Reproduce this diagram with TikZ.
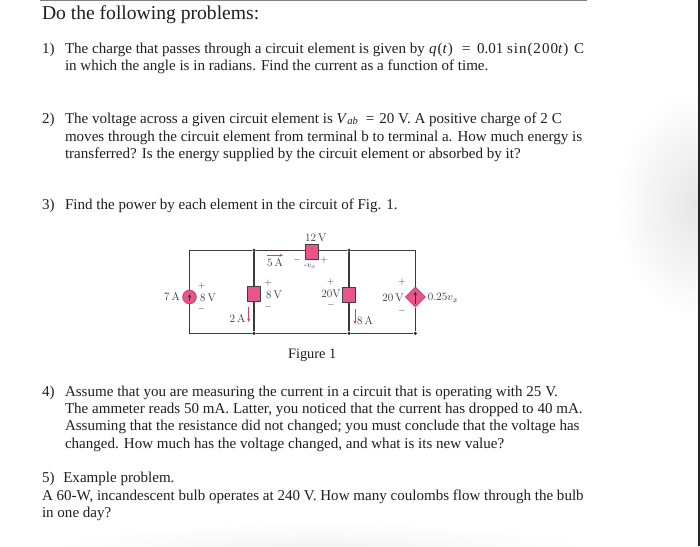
\documentclass[tikz,border=0pt]{standalone}
\usepackage{fontspec}
\usetikzlibrary{shapes.geometric,arrows.meta}
\newfontfamily\tnr{Liberation Serif}
\newfontfamily\tnrw[LetterSpace=6.5]{Liberation Serif}
\definecolor{elem}{HTML}{E9558B}
\definecolor{wirec}{HTML}{3A3A3A}
\definecolor{arrowc}{HTML}{D83A78}
\newcommand{\bodysize}{\fontsize{15.05}{17}\selectfont\tnr}
\tikzset{
  x=1pt,y=-1pt,
  body/.style={anchor=base west,inner sep=0pt,outer sep=0pt,font=\bodysize,text=black!88},
  wbody/.style={anchor=base west,inner sep=0pt,outer sep=0pt,font=\fontsize{15.05}{17}\selectfont\tnrw,text=black!88},
  lab/.style={inner sep=0pt,outer sep=0pt,font=\fontsize{11.2}{12}\selectfont,text=black!80},
  sgn/.style={inner sep=0pt,outer sep=0pt,font=\fontsize{9.5}{10}\selectfont,text=black!80},
  wire/.style={draw=wirec,line width=1.25pt},
  boxel/.style={draw=black!75,fill=elem,line width=1pt,rectangle,inner sep=0pt,minimum width=13pt,minimum height=15pt},
  srcel/.style={draw=elem!85!black,fill=elem,line width=1pt,circle,inner sep=0pt,minimum size=13.5pt},
  depel/.style={draw=elem!85!black,fill=elem,line width=1pt,diamond,inner sep=0pt,minimum width=20pt,minimum height=20pt},
  jdot/.style={circle,fill=black!85,inner sep=0pt,minimum size=3.4pt},
  curr/.style={draw=arrowc,line width=0.9pt,-{Stealth[length=3.5pt,width=3pt]}},
  inner/.style={draw=black!80,line width=0.8pt,-{Stealth[length=4pt,width=3.5pt]}},
}
\begin{document}
\begin{tikzpicture}
\useasboundingbox (0,0) rectangle (700,546);
% page shadows
\fill[white] (0,0) rectangle (700,546);
\begin{scope}
\clip (0,0) rectangle (700,546);
\shade[inner color=black!10,outer color=white,draw=none] (700,205) ellipse [x radius=85,y radius=115];
\shade[inner color=black!5,outer color=white,draw=none] (320,550) ellipse [x radius=270,y radius=28];
\end{scope}
\fill[black!85] (698,0) rectangle (700,546);
\coordinate (ruleL) at (40,0.5);
\coordinate (ruleR) at (587,0.5);
\draw[black!50,line width=1.2pt] (ruleL) -- (ruleR);
% text
\node[body,font=\fontsize{19.6}{22}\selectfont\tnr] (title) at (42,19) {Do the following problems:};
\node[body] (p1n) at (42,53) {1)};
\node[body] (p1a) at (65,53) {The charge that passes through a circuit element is given by};
\node[wbody] (m1) at (429,53) {\textit{q}(\textit{t})};
\node[body] (m2) at (462,53) {=};
\node[body] (m3) at (477,53) {0.01};
\node[wbody] (m4) at (507,53) {sin(200\textit{t})};
\node[body] (m5) at (574,53) {C};
\node[body] (p1b) at (65,70) {in which the angle is in radians. Find the current as a function of time.};
\node[body] (p2n) at (42,123) {2)};
\node[body] (p2a) at (65,123) {The voltage across a given circuit element is \textit{V}\raisebox{-0.25ex}{\fontsize{10.5}{10}\selectfont\textit{ab}}\hspace{8pt}=\hspace{5pt}20 V. A positive charge of 2 C};
\node[body] (p2b) at (65,141) {moves through the circuit element from terminal b to terminal a. How much energy is};
\node[body] (p2c) at (65,158) {transferred? Is the energy supplied by the circuit element or absorbed by it?};
\node[body] (p3n) at (42,209) {3)};
\node[body] (p3a) at (65,209) {Find the power by each element in the circuit of Fig. 1.};
\node[body,font=\fontsize{14.4}{17}\selectfont\tnr] (fig) at (288,358) {Figure 1};
\node[body] (p4n) at (42,396) {4)};
\node[body] (p4a) at (65,396) {Assume that you are measuring the current in a circuit that is operating with 25 V.};
\node[body] (p4b) at (65,413) {The ammeter reads 50 mA. Latter, you noticed that the current has dropped to 40 mA.};
\node[body] (p4c) at (65,430) {Assuming that the resistance did not changed; you must conclude that the voltage has};
\node[body] (p4d) at (65,448) {changed. How much has the voltage changed, and what is its new value?};
\node[body] (p5a) at (42,482) {5)\hspace{5pt} Example problem.};
\node[body] (p5b) at (42,500) {A 60-W, incandescent bulb operates at 240 V. How many coulombs flow through the bulb};
\node[body] (p5c) at (42,517) {in one day?};
% circuit
\coordinate (tl) at (189.5,250.3);
\coordinate (bl) at (189.5,333.3);
\node[jdot] (tm) at (254,250.3) {};
\node[jdot] (bm) at (254,333.3) {};
\node[jdot] (tn) at (349,250.3) {};
\node[jdot] (bn) at (349,333.3) {};
\coordinate (tr) at (415.3,250.3);
\node[jdot] (br) at (415.3,333.3) {};
\node[srcel] (s7) at (189.5,297) {};
\node[boxel] (e8) at (254,293.5) {};
\node[boxel] (e12) at (311.5,251.5) {};
\node[boxel] (e20) at (349,294.5) {};
\node[depel] (dep) at (415.3,297) {};
\draw[wire] (s7) -- (tl) -- (tm) -- (tm -| e12.west);
\draw[wire] (tm -| e12.east) -- (tn) -- (tr) -- (dep);
\draw[wire] (dep) -- (br) -- (bn) -- (bm) -- (bl) -- (s7);
\draw[wire] (tm) -- (e8);
\draw[wire] (e8) -- (bm);
\draw[wire] (tn) -- (e20);
\draw[wire] (e20) -- (bn);
\draw[inner] (s7.south) ++(0,-3.5) -- ++(0,-7);
\draw[inner] (dep.south) ++(0,-4) -- ++(0,-12);
% current arrows
\coordinate (a5s) at (267,255.3);
\coordinate (a5e) at (283,255.3);
\coordinate (a2s) at (248.7,306.7);
\coordinate (a2e) at (248.7,322);
\coordinate (a8s) at (355,309);
\coordinate (a8e) at (355,324);
\draw[curr] (a5s) -- (a5e);
\draw[curr] (a2s) -- (a2e);
\draw[curr] (a8s) -- (a8e);
% labels
\node[lab] (l7a) at (172,297) {7\,A};
\node[sgn] (l8p) at (201.7,286) {+};
\node[lab] (l8v) at (208,297.5) {8\,V};
\node[sgn] (l8m) at (201.7,309) {$-$};
\node[sgn] (m8p) at (268,283.5) {+};
\node[lab] (m8v) at (274,295) {8\,V};
\node[sgn] (m8m) at (268,307) {$-$};
\node[lab] (l2a) at (237.5,318.7) {2\,A};
\node[lab] (l5a) at (275,262.7) {5\,A};
\node[sgn] (t12m) at (297,260) {$-$};
\node[sgn] (t12p) at (324,260) {+};
\node[lab,font=\fontsize{8.5}{9}\selectfont] (tvx) at (310,266.5) {-$v_x$};
\node[lab] (t12) at (315.7,238) {12\,V};
\node[sgn] (n20p) at (330.7,282) {+};
\node[lab] (n20) at (331,294) {20V};
\node[sgn] (n20m) at (331,305.5) {$-$};
\node[lab] (l8a) at (365,321) {8\,A};
\node[sgn] (r20p) at (402,282) {+};
\node[lab] (r20) at (393,297.5) {20\,V};
\node[sgn] (r20m) at (402,311.7) {$-$};
\node[lab] (dv) at (443,297.5) {0.25$v_x$};
\end{tikzpicture}
\end{document}
